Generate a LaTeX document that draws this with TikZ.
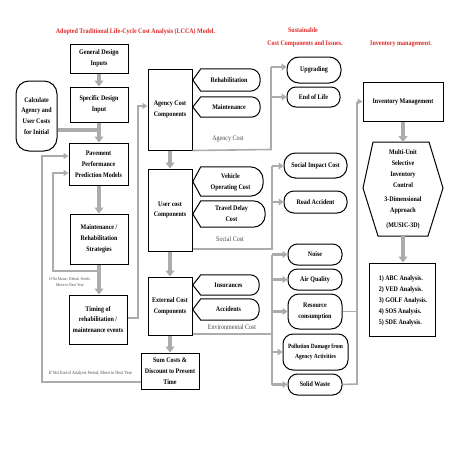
\documentclass[tikz,border=0pt]{standalone}
\usepackage{fontspec}
\setmainfont[FakeStretch=0.86]{Liberation Serif}
\usetikzlibrary{arrows.meta,calc}
\definecolor{conn}{RGB}{172,172,172}
\definecolor{ttlred}{RGB}{222,40,40}
\definecolor{lblgray}{RGB}{70,70,70}
\newcommand\chevbox[2]{\draw[line width=1pt] ($(#1.north west)+(8,0)$) [rounded corners=#2] -- (#1.north east) -- (#1.south east) [sharp corners] -- ($(#1.south west)+(8,0)$) -- (#1.west) -- cycle;}
\begin{document}
\begin{tikzpicture}[x=1pt,y=-1pt,
 txt/.style={font=\bfseries\fontsize{7}{10.8}\selectfont, align=center, inner sep=0pt},
 box/.style={txt, draw, line width=1pt, fill=white},
 stad/.style={txt, draw, line width=1pt, fill=white},
 ttl/.style={font=\bfseries\fontsize{7}{8}\selectfont, text=ttlred, inner sep=0pt},
 lbl/.style={font=\fontsize{7}{8}\selectfont, text=lblgray, inner sep=0pt},
 tiny/.style={font=\fontsize{4.2}{5.5}\selectfont, text=lblgray, inner sep=0pt, align=center},
 cline/.style={draw=conn, line width=1.6pt},
 bigarrow/.style={draw=conn, line width=3.2pt, -{Triangle[length=6pt,width=9pt]}},
 harrow/.style={draw=conn, line width=2.6pt, -{Triangle[length=5pt,width=7pt]}},
 larrow/.style={draw=conn, line width=1.6pt, -{Triangle[length=5pt,width=6pt]}}
]
\useasboundingbox (0,0) rectangle (453,453);

% titles
\node[ttl] (t1) at (135.5,32) {Adopted Traditional Life-Cycle Cost Analysis (LCCA) Model.};
\node[ttl] (t2) at (303,30) {Sustainable};
\node[ttl] (t3) at (305,44) {Cost Components and Issues.};
\node[ttl] (t4) at (401,44) {Inventory management.};

% left column
\node[box, minimum width=58pt, minimum height=29pt] (gdi) at (99,58.5) {General Design\\Inputs};
\node[box, minimum width=58pt, minimum height=35pt] (sdi) at (99,104.5) {Specific Design\\Input};
\node[box, rounded corners=13pt, minimum width=41pt, minimum height=70pt] (calc) at (36.5,116) {Calculate\\Agency and\\User Costs\\for Initial};
\node[box, minimum width=59pt, minimum height=42pt] (ppm) at (98.5,164) {Pavement\\Performance\\Prediction Models};
\node[box, minimum width=58pt, minimum height=50pt] (mrs) at (99,239) {Maintenance /\\Rehabilitation\\Strategies};
\node[box, minimum width=58pt, minimum height=49pt] (tim) at (98,319.5) {Timing of\\rehabilitation /\\maintenance events};
\node[box, minimum width=58pt, minimum height=36pt] (sum) at (170,371) {Sum Costs \&\\Discount to Present\\Time};

% middle column
\node[box, minimum width=44pt, minimum height=81pt] (acc) at (170,109.5) {Agency Cost\\Components};
\node[box, minimum width=44pt, minimum height=82pt] (ucc) at (170,210) {User cost\\Components};
\node[box, minimum width=44pt, minimum height=58pt] (ecc) at (170,306) {External Cost\\Components};

% chevron boxes
\node[txt, minimum width=67pt, minimum height=22pt] (reh) at (226.5,80) {\hspace{5pt}Rehabilitation};
\chevbox{reh}{10pt}
\node[txt, minimum width=67pt, minimum height=20pt] (mnt) at (226.5,107) {\hspace{5pt}Maintenance};
\chevbox{mnt}{9pt}
\node[txt, minimum width=70pt, minimum height=29pt] (voc) at (228,181.5) {\hspace{5pt}\begin{tabular}{@{}c@{}}Vehicle\\Operating Cost\end{tabular}};
\chevbox{voc}{13pt}
\node[txt, minimum width=72pt, minimum height=26pt] (tdc) at (229,214) {\hspace{5pt}\begin{tabular}{@{}c@{}}Travel Delay\\Cost\end{tabular}};
\chevbox{tdc}{12pt}
\node[txt, minimum width=66pt, minimum height=20pt] (ins) at (226,285) {\hspace{5pt}Insurances};
\chevbox{ins}{9pt}
\node[txt, minimum width=66pt, minimum height=21pt] (acd) at (226,309.5) {\hspace{5pt}Accidents};
\chevbox{acd}{9.5pt}

\node[lbl] (l1) at (228,139) {Agency Cost};
\node[lbl] (l2) at (230,239) {Social Cost};
\node[lbl] (l3) at (232,327) {Environmental Cost};

% stadium boxes
\node[stad, rounded corners=12pt, minimum width=54pt, minimum height=26pt] (upg) at (314,70) {Upgrading};
\node[stad, rounded corners=9pt, minimum width=53pt, minimum height=20pt] (eol) at (313.5,97) {End of Life};
\node[stad, rounded corners=11.5pt, minimum width=63pt, minimum height=25pt] (sic) at (315.5,165.5) {Social Impact Cost};
\node[stad, rounded corners=10pt, minimum width=63pt, minimum height=22pt] (rda) at (315.5,202) {Road Accident};
\node[stad, rounded corners=9.5pt, minimum width=54pt, minimum height=21pt] (noi) at (315,254.5) {Noise};
\node[stad, rounded corners=9.5pt, minimum width=54pt, minimum height=21pt] (aiq) at (315,279.5) {Air Quality};
\node[stad, rounded corners=11pt, minimum width=54pt, minimum height=35pt] (res) at (315,311.5) {Resource\\consumption};
\node[stad, rounded corners=10pt, minimum width=65pt, minimum height=36pt, font=\bfseries\fontsize{6.4}{9.5}\selectfont] (pol) at (315.5,352) {Pollution Damage from\\Agency Activities};
\node[stad, rounded corners=9.5pt, minimum width=54pt, minimum height=21pt] (sol) at (315,384.5) {Solid Waste};

% right column
\node[box, minimum width=80pt, minimum height=39pt] (inv) at (403,101.5) {Inventory Management};
\draw[line width=1pt] (373,142) -- (429,142) -- (443,188) -- (428,236) -- (378,236) -- (363,188) -- cycle;
\node[txt] (hex) at (403,189.5) {Multi-Unit\\Selective\\Inventory\\Control\\[4pt]3-Dimensional\\Approach\\[4pt](MUSIC-3D)};
\coordinate (hextop) at (403,142);
\coordinate (hexbot) at (403,236);
\node[box, minimum width=66pt, minimum height=73pt] (lst) at (402,299.5) {};
\node[txt, align=left, font=\bfseries\fontsize{7}{11}\selectfont] (lsttxt) at (403,301) {1) ABC Analysis.\\2) VED Analysis.\\3) GOLF Analysis.\\4) SOS Analysis.\\5) SDE Analysis.};

% left connectors
\draw[bigarrow] (gdi.south) -- (sdi.north);
\coordinate (cj) at (99,130);
\draw[cline, line width=3.2pt] (calc.east |- cj) -- (cj);
\draw[bigarrow] (sdi.south) -- (ppm.north -| sdi.south);
\draw[bigarrow] (ppm.south -| mrs.north) -- (mrs.north);
\draw[bigarrow] (mrs.south) -- (tim.north -| mrs.south);
% inner loop
\coordinate (il0) at (99,271);
\coordinate (il1) at (53,271);
\coordinate (il2) at (53,173);
\draw[larrow] (il0) -- (il1) -- (il2) -- (ppm.west |- il2);
\node[tiny] (nl) at (70,282) {If No Maint / Rehab. Needs,\\Move to Next Year};
% outer loop
\coordinate (ol0) at (141,382);
\coordinate (ol1) at (42,382);
\coordinate (ol2) at (42,156);
\draw[larrow] (ol0) -- (ol1) -- (ol2) -- (ppm.west |- ol2);
\node[tiny, font=\fontsize{4.8}{5.5}\selectfont] (nl2) at (90.5,373) {If Not End of Analysis Period, Move to Next Year};
% timing to agency
\coordinate (ta1) at (138,318);
\coordinate (ta2) at (138,106);
\draw[larrow] (tim.east |- ta1) -- (ta1) -- (ta2) -- (acc.west |- ta2);

% middle arrows
\draw[bigarrow] (acc.south) -- (ucc.north);
\draw[bigarrow] (ucc.south) -- (ecc.north);
\draw[bigarrow] (ecc.south) -- (sum.north);

% agency cost bus
\coordinate (a1) at (271,149.5);
\coordinate (a2) at (271,67);
\draw[cline] (acc.south east) -- (a1) -- (a2);
\draw[harrow] (a2) -- (upg.west |- a2);
\draw[harrow] (a2 |- eol.west) -- (eol.west);
% social cost bus
\coordinate (s1) at (272,249);
\coordinate (s2) at (272,166);
\draw[cline] (ucc.east |- s1) -- (s1) -- (s2);
\draw[harrow] (s2) -- (sic.west |- s2);
\draw[harrow] (s2 |- rda.west) -- (rda.west);
% environmental bus
\coordinate (e0) at (272,334);
\coordinate (e1) at (272,255);
\coordinate (e2) at (272,385);
\draw[cline] (ecc.east |- e0) -- (e0);
\draw[cline] (e1) -- (e2);
\draw[harrow] (e1 |- noi.west) -- (noi.west);
\draw[harrow] (e1 |- aiq.west) -- (aiq.west);
\draw[harrow] (e1 |- res.west) -- (res.west);
\draw[harrow] (e1 |- pol.west) -- (pol.west);
\draw[harrow] (e1 |- sol.west) -- (sol.west);
% right bus
\coordinate (r0) at (357,384);
\coordinate (r1) at (357,101.5);
\draw[cline] (res.east) -- (res.east -| r0);
\draw[cline] (sol.east) -- (r0) -- (r1);
\draw[larrow] (r1) -- (inv.west);
\draw[bigarrow] (inv.south) -- (hextop);
\draw[bigarrow] (hexbot) -- (lst.north -| hexbot);
\end{tikzpicture}
\end{document}
